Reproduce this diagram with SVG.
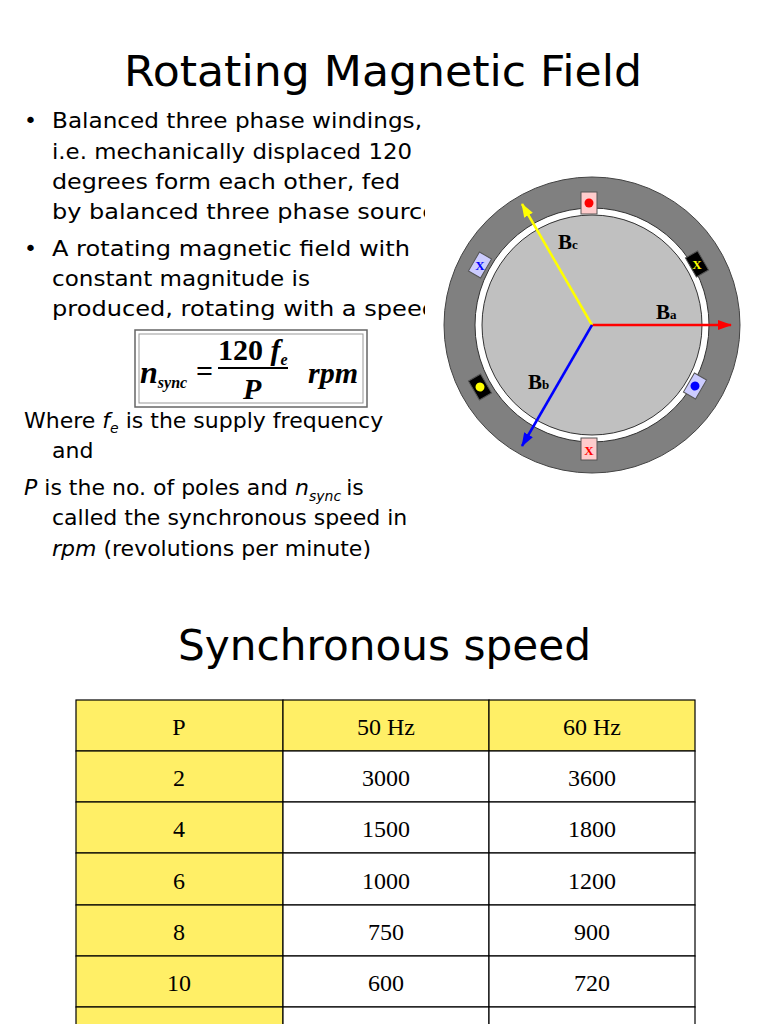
<svg xmlns="http://www.w3.org/2000/svg" width="768" height="1024" viewBox="0 0 768 1024">
<defs>
<style>
.t{font-family:"DejaVu Sans","Open Sans",sans-serif;font-size:22px;fill:#000}
.h{font-family:"DejaVu Sans","Open Sans",sans-serif;font-size:42px;fill:#000}
.c{font-family:"Liberation Serif",serif;font-size:24px;text-anchor:middle;fill:#000}
.b{font-family:"Liberation Serif",serif;font-weight:bold;fill:#000}
.y{fill:#ffef66}
.cell{stroke:#000;stroke-width:1.2}
</style>
<clipPath id="cl"><rect x="0" y="100" width="425" height="500"/></clipPath>
<marker id="arR" markerWidth="14" markerHeight="10" refX="13" refY="5" orient="auto" markerUnits="userSpaceOnUse"><path d="M0,0 L14,5 L0,10 Z" fill="#f00"/></marker>
<marker id="arY" markerWidth="14" markerHeight="10" refX="13" refY="5" orient="auto" markerUnits="userSpaceOnUse"><path d="M0,0 L14,5 L0,10 Z" fill="#ff0"/></marker>
<marker id="arB" markerWidth="14" markerHeight="10" refX="13" refY="5" orient="auto" markerUnits="userSpaceOnUse"><path d="M0,0 L14,5 L0,10 Z" fill="#00f"/></marker>
</defs>
<rect width="768" height="1024" fill="#fff"/>
<text class="h" x="124" y="86" textLength="518" lengthAdjust="spacingAndGlyphs">Rotating Magnetic Field</text>
<g id="text" clip-path="url(#cl)">
<text class="t" x="24" y="128">•</text>
<text class="t" x="52" y="128" textLength="370" lengthAdjust="spacingAndGlyphs">Balanced three phase windings,</text>
<text class="t" x="52" y="159" textLength="360" lengthAdjust="spacingAndGlyphs">i.e. mechanically displaced 120</text>
<text class="t" x="52" y="189" textLength="348" lengthAdjust="spacingAndGlyphs">degrees form each other, fed</text>
<text class="t" x="52" y="219" textLength="385" lengthAdjust="spacingAndGlyphs">by balanced three phase source</text>
<text class="t" x="24" y="256">•</text>
<text class="t" x="52" y="256" textLength="358" lengthAdjust="spacingAndGlyphs">A rotating magnetic field with</text>
<text class="t" x="52" y="286" textLength="258" lengthAdjust="spacingAndGlyphs">constant magnitude is</text>
<text class="t" x="52" y="316" textLength="385" lengthAdjust="spacingAndGlyphs">produced, rotating with a speed</text>
<text class="t" x="24" y="428">Where <tspan font-style="italic">f</tspan><tspan font-size="14" dy="5" font-style="italic">e</tspan><tspan dy="-5"> is the supply frequency</tspan></text>
<text class="t" x="52" y="458">and</text>
<text class="t" x="24" y="495"><tspan font-style="italic">P</tspan> is the no. of poles and <tspan font-style="italic">n</tspan><tspan font-size="14" dy="6" font-style="italic">sync</tspan><tspan dy="-6" dx="5">is</tspan></text>
<text class="t" x="52" y="525">called the synchronous speed in</text>
<text class="t" x="52" y="556"><tspan font-style="italic">rpm</tspan> (revolutions per minute)</text>
</g>
<g id="formula">
<rect x="135" y="330" width="232" height="77" fill="#fff" stroke="#666" stroke-width="1.5"/>
<rect x="139" y="334" width="224" height="69" fill="none" stroke="#999" stroke-width="1"/>
<text class="b" font-style="italic" x="140" y="383" font-size="32">n<tspan font-size="16" dy="5">sync</tspan></text>
<text class="b" x="196" y="381" font-size="30">=</text>
<text class="b" x="218" y="360" font-size="30">120<tspan font-style="italic"> f</tspan><tspan font-size="16" dy="5" font-style="italic">e</tspan></text>
<line x1="218" y1="368" x2="288" y2="368" stroke="#000" stroke-width="2"/>
<text class="b" font-style="italic" x="243" y="399" font-size="30">P</text>
<text class="b" font-style="italic" x="308" y="383" font-size="30">rpm</text>
</g>
<g id="motor">
<circle cx="592" cy="325" r="148" fill="#808080" stroke="#444" stroke-width="1"/>
<circle cx="592" cy="325" r="117" fill="#fff" stroke="#333" stroke-width="1"/>
<circle cx="592" cy="325" r="110" fill="#c0c0c0" stroke="#333" stroke-width="1"/>
<g id="slot-a"><rect x="581" y="192" width="16" height="22" fill="#ffcccc" stroke="#555"/><circle cx="589" cy="203" r="4.5" fill="#f00"/></g>
<g id="slot-ax"><rect x="581" y="438" width="16" height="22" fill="#ffcccc" stroke="#555"/><text class="b" x="589" y="455" font-size="13" text-anchor="middle" style="fill:#f00">X</text></g>
<g id="slot-bx" transform="translate(480,265) rotate(-60)"><rect x="-11" y="-7" width="22" height="14" fill="#ccccff" stroke="#555"/><text class="b" x="0" y="5" font-size="13" text-anchor="middle" transform="rotate(60)" style="fill:#00f">X</text></g>
<g id="slot-b" transform="translate(695,386) rotate(-60)"><rect x="-11" y="-7" width="22" height="14" fill="#ccccff" stroke="#555"/><circle cx="0" cy="0" r="4.5" fill="#00f"/></g>
<g id="slot-cx" transform="translate(697,264) rotate(60)"><rect x="-11" y="-7" width="22" height="14" fill="#000" stroke="#555"/><text class="b" x="0" y="5" font-size="13" text-anchor="middle" transform="rotate(-60)" style="fill:#ff0">X</text></g>
<g id="slot-c" transform="translate(480,387) rotate(60)"><rect x="-11" y="-7" width="22" height="14" fill="#000" stroke="#555"/><circle cx="0" cy="0" r="4.5" fill="#ff0"/></g>
</g>
<g id="connectors">
<line x1="592" y1="325" x2="731" y2="325" stroke="#f00" stroke-width="2.5" marker-end="url(#arR)"/>
<line x1="592" y1="325" x2="522" y2="204" stroke="#ff0" stroke-width="2.5" marker-end="url(#arY)"/>
<line x1="592" y1="325" x2="522" y2="446" stroke="#00f" stroke-width="2.5" marker-end="url(#arB)"/>
</g>
<text class="b" x="656" y="319" font-size="21">B<tspan font-size="13">a</tspan></text>
<text class="b" x="558" y="249" font-size="21">B<tspan font-size="13">c</tspan></text>
<text class="b" x="528" y="389" font-size="21">B<tspan font-size="13">b</tspan></text>
<text class="h" x="178" y="660" textLength="413" lengthAdjust="spacingAndGlyphs">Synchronous speed</text>
<g id="table">
<rect class="cell y" x="76" y="700" width="207" height="51"/>
<rect class="cell y" x="283" y="700" width="206" height="51"/>
<rect class="cell y" x="489" y="700" width="206" height="51"/>
<g fill="#fff">
<rect class="cell y" x="76" y="751" width="207" height="51"/><rect class="cell" x="283" y="751" width="206" height="51"/><rect class="cell" x="489" y="751" width="206" height="51"/>
<rect class="cell y" x="76" y="802" width="207" height="51"/><rect class="cell" x="283" y="802" width="206" height="51"/><rect class="cell" x="489" y="802" width="206" height="51"/>
<rect class="cell y" x="76" y="853" width="207" height="52"/><rect class="cell" x="283" y="853" width="206" height="52"/><rect class="cell" x="489" y="853" width="206" height="52"/>
<rect class="cell y" x="76" y="905" width="207" height="51"/><rect class="cell" x="283" y="905" width="206" height="51"/><rect class="cell" x="489" y="905" width="206" height="51"/>
<rect class="cell y" x="76" y="956" width="207" height="51"/><rect class="cell" x="283" y="956" width="206" height="51"/><rect class="cell" x="489" y="956" width="206" height="51"/>
<rect class="cell y" x="76" y="1007" width="207" height="51"/><rect class="cell" x="283" y="1007" width="206" height="51"/><rect class="cell" x="489" y="1007" width="206" height="51"/>
</g>
<text class="c" x="179" y="735">P</text><text class="c" x="386" y="735">50 Hz</text><text class="c" x="592" y="735">60 Hz</text>
<text class="c" x="179" y="786">2</text><text class="c" x="386" y="786">3000</text><text class="c" x="592" y="786">3600</text>
<text class="c" x="179" y="837">4</text><text class="c" x="386" y="837">1500</text><text class="c" x="592" y="837">1800</text>
<text class="c" x="179" y="889">6</text><text class="c" x="386" y="889">1000</text><text class="c" x="592" y="889">1200</text>
<text class="c" x="179" y="940">8</text><text class="c" x="386" y="940">750</text><text class="c" x="592" y="940">900</text>
<text class="c" x="179" y="991">10</text><text class="c" x="386" y="991">600</text><text class="c" x="592" y="991">720</text>
<text class="c" x="179" y="1042">12</text><text class="c" x="386" y="1042">500</text><text class="c" x="592" y="1042">600</text>
</g>
</svg>
